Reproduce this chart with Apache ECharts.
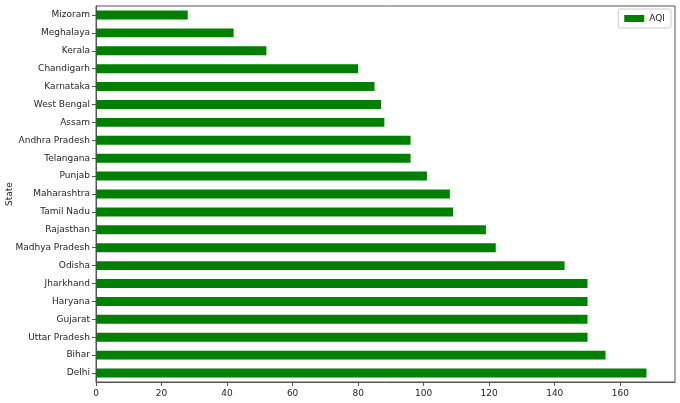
<!DOCTYPE html>
<html>
<head>
<meta charset="utf-8">
<script src="https://cdn.jsdelivr.net/npm/echarts@6/dist/echarts.min.js"></script>
<style>html,body{margin:0;padding:0;background:#fff}#c{width:680px;height:403px}</style>
</head>
<body>
<div id="c"></div>
<script>
var states = ["Delhi","Bihar","Uttar Pradesh","Gujarat","Haryana","Jharkhand","Odisha","Madhya Pradesh","Rajasthan","Tamil Nadu","Maharashtra","Punjab","Telangana","Andhra Pradesh","Assam","West Bengal","Karnataka","Chandigarh","Kerala","Meghalaya","Mizoram"];
var aqi = [168, 155.5, 150, 150, 150, 150, 143, 122, 119, 109, 108, 101, 96, 96, 88, 87, 85, 80, 52, 42, 28];
var xTicks = [0, 20, 40, 60, 80, 100, 120, 140, 160];

var chart = echarts.init(document.getElementById('c'), null, {renderer: 'canvas'});
var font = 'DejaVu Sans';
chart.setOption({
  animation: false,
  textStyle: {fontFamily: font},
  grid: {left: 96, right: 5, top: 6, bottom: 21, containLabel: false, outerBoundsMode: 'none',
    show: true, borderColor: '#555', borderWidth: 1, backgroundColor: 'transparent'},
  legend: {
    data: ['AQI'], right: 9, top: 9, icon: 'rect', itemWidth: 20, itemHeight: 7, itemGap: 5,
    borderColor: '#ccc', borderWidth: 1, borderRadius: 2, padding: [5, 6, 5, 6],
    textStyle: {fontFamily: font, fontSize: 9, color: '#262626'}
  },
  xAxis: {
    type: 'value', min: 0, max: 176.7, interval: 20,
    axisLine: {show: true, lineStyle: {color: '#555'}},
    axisTick: {show: true, length: 4, lineStyle: {color: '#555'},
      customValues: xTicks},
    axisLabel: {color: '#262626', fontSize: 9, margin: 7, fontFamily: font,
      customValues: xTicks},
    splitLine: {show: false}
  },
  yAxis: {
    type: 'category', data: states, name: 'State', nameLocation: 'middle', nameGap: 82,
    nameMoveOverlap: false,
    nameTextStyle: {color: '#262626', fontSize: 9, fontFamily: font},
    axisLine: {show: true, lineStyle: {color: '#555'}},
    axisTick: {show: true, alignWithLabel: true, length: 4, lineStyle: {color: '#555'}},
    axisLabel: {color: '#262626', fontSize: 9, margin: 6, fontFamily: font},
    splitLine: {show: false}
  },
  series: [{
    name: 'AQI', type: 'bar', data: aqi, barWidth: '50%',
    itemStyle: {color: '#008000'}
  }]
});
</script>
</body>
</html>
